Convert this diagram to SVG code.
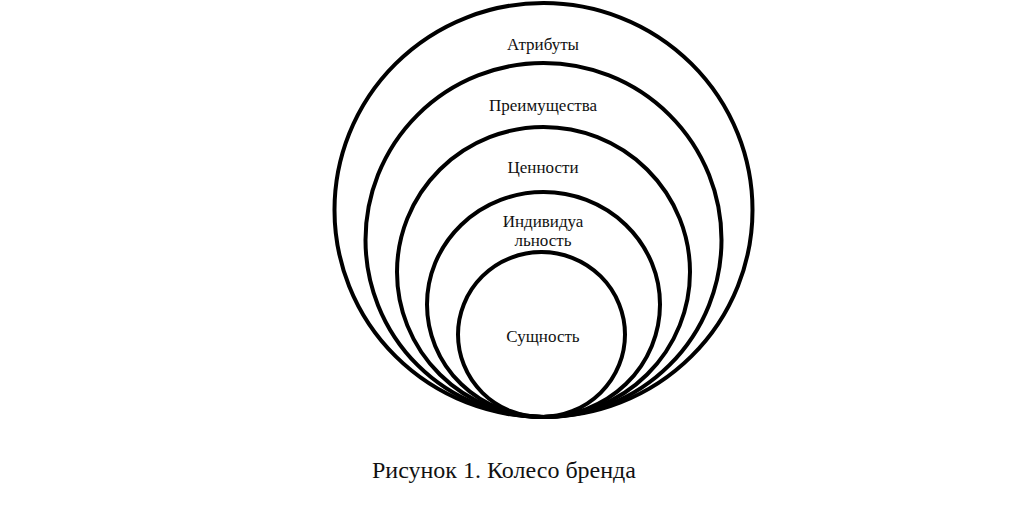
<svg xmlns="http://www.w3.org/2000/svg" width="1024" height="507" viewBox="0 0 1024 507">
<style>
.c{fill:none;stroke:#000;stroke-width:4}
.t{font-family:"Liberation Serif",serif;font-size:17px;fill:#111;text-anchor:middle}
.cap{font-family:"Liberation Serif",serif;font-size:24px;fill:#111;text-anchor:middle}
</style>
<rect width="1024" height="507" fill="#fff"/>
<g id="n1"><ellipse class="c" cx="543.5" cy="210" rx="209" ry="207"/><text class="t" x="543" y="50">Атрибуты</text></g>
<g id="n2"><ellipse class="c" cx="543.5" cy="240" rx="178" ry="177"/><text class="t" x="543" y="111">Преимущества</text></g>
<g id="n3"><ellipse class="c" cx="543.5" cy="272" rx="146.5" ry="145"/><text class="t" x="543" y="173">Ценности</text></g>
<g id="n4"><ellipse class="c" cx="543.5" cy="304.5" rx="116.5" ry="112.5"/><text class="t" x="543" y="227">Индивидуа</text><text class="t" x="543" y="246">льность</text></g>
<g id="n5"><ellipse class="c" cx="541.5" cy="334.5" rx="83.5" ry="82.5"/><text class="t" x="543" y="342">Сущность</text></g>
<g id="connectors"/>
<text class="cap" x="504" y="478">Рисунок 1. Колесо бренда</text>
</svg>
